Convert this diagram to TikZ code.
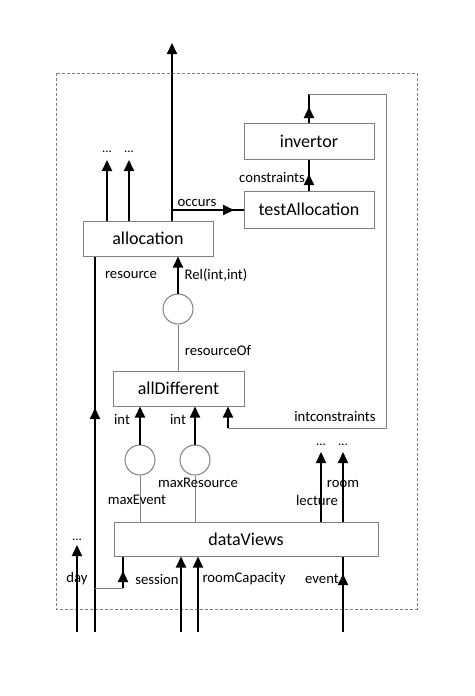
\documentclass[tikz,border=0pt]{standalone}
\usepackage{fontspec}
\setmainfont{Carlito}
\usetikzlibrary{arrows.meta}
\definecolor{boxgray}{RGB}{128,128,128}
\begin{document}
\begin{tikzpicture}[x=1pt,y=-1pt,
  box/.style={draw=boxgray, line width=1pt, inner sep=0pt, font=\fontsize{18}{20}\selectfont},
  circ/.style={draw=boxgray, line width=1pt, circle, minimum size=30pt, inner sep=0pt},
  lbl/.style={inner sep=0pt, font=\fontsize{14.7}{16}\selectfont},
  dots/.style={inner sep=0pt, font=\fontsize{13}{13}\selectfont},
  thk/.style={line width=2pt, draw=black},
  arr/.style={thk, -{Triangle[width=10pt,length=11pt]}},
  thinln/.style={line width=1pt, draw=boxgray}]
\useasboundingbox (0,0) rectangle (474,696);
\fill[white] (0,0) rectangle (474,696);
% outer dashed frame
\draw[boxgray, line width=0.8pt, dash pattern=on 3pt off 2pt] (56,73) rectangle (417,609);

% boxes
\node[box, minimum width=130pt, minimum height=35pt] (allocation) at (148,238.5) {allocation};
\node[box, minimum width=130pt, minimum height=37pt] (testAllocation) at (309,209.5) {testAllocation};
\node[box, minimum width=130pt, minimum height=36pt] (invertor) at (309,141) {invertor};
\node[box, minimum width=131pt, minimum height=35pt] (allDifferent) at (178.5,388.5) {allDifferent};
\node[box, minimum width=264pt, minimum height=34pt] (dataViews) at (246,539) {dataViews};

% circles
\node[circ] (rel) at (178,309) {};
\node[circ] (maxE) at (140,460) {};
\node[circ] (maxR) at (195,460) {};

% coordinates
\coordinate (topTip) at (172,43);
\coordinate (occ) at (172,210);
\coordinate (occTip) at (234,210);
\coordinate (a1) at (107,160);
\coordinate (a2) at (129,160);
\coordinate (conTip) at (309,174);
\coordinate (invTip) at (309,107);
\coordinate (fb1) at (309,94);
\coordinate (fb2) at (386,94);
\coordinate (fb3) at (386,428);
\coordinate (fb4) at (228,428);
\coordinate (resB) at (95,632);
\coordinate (resTip) at (95,408);
\coordinate (sesJ) at (95,588);
\coordinate (sesB) at (123,588);
\coordinate (sesTip) at (123,571);
\coordinate (dayB) at (77,632);
\coordinate (dayTip) at (77,545);
\coordinate (rc1B) at (181,632);
\coordinate (rc2B) at (198,632);
\coordinate (evB) at (343,632);
\coordinate (evTip) at (343,574);
\coordinate (lecTip) at (321,452);
\coordinate (roomTip) at (343,452);

% allocation outputs
\draw[arr] (allocation.north -| topTip) -- (topTip);
\draw[arr] (allocation.north -| a1) -- (a1);
\draw[arr] (allocation.north -| a2) -- (a2);
\draw[thk] (occ) -- (occ -| testAllocation.west);
\draw[arr] (occ) -- (occTip);

% testAllocation -> invertor
\draw[thk] (testAllocation.north) -- (invertor.south);
\draw[arr] (testAllocation.north) -- (conTip);

% invertor feedback loop
\draw[thk] (invertor.north) -- (fb1);
\draw[arr] (invertor.north) -- (invTip);
\draw[thinln] (fb1) -- (fb2) -- (fb3) -- (fb4);
\draw[arr] (fb4) -- (fb4 |- allDifferent.south);

% rel circle
\draw[arr] (rel.north) -- (rel.north |- allocation.south);
\draw[thinln] (rel.south) -- (rel.south |- allDifferent.north);

% max circles
\draw[arr] (maxE.north) -- (maxE.north |- allDifferent.south);
\draw[arr] (maxR.north) -- (maxR.north |- allDifferent.south);
\draw[thinln] (maxE.south) -- (maxE.south |- dataViews.north);
\draw[thinln] (maxR.south) -- (maxR.south |- dataViews.north);

% resource line
\draw[thk] (resB) -- (resB |- allocation.south);
\draw[arr] (resB) -- (resTip);

% session
\draw[thinln] (sesJ) -- (sesB);
\draw[thk] (sesB) -- (sesB |- dataViews.south);
\draw[arr] (sesB) -- (sesTip);

% day
\draw[arr] (dayB) -- (dayTip);

% roomCapacity
\draw[arr] (rc1B) -- (rc1B |- dataViews.south);
\draw[arr] (rc2B) -- (rc2B |- dataViews.south);

% event
\draw[thk] (evB) -- (evB |- dataViews.south);
\draw[arr] (evB) -- (evTip);

% lecture, room
\draw[arr] (lecTip |- dataViews.north) -- (lecTip);
\draw[arr] (roomTip |- dataViews.north) -- (roomTip);

% labels
\node[lbl] (lOcc) at (197,203) {occurs};
\node[lbl] (lCon) at (272,177) {constraints};
\node[lbl] (lRel) at (216,275) {Rel(int,int)};
\node[lbl] (lRes) at (131,275) {resource};
\node[lbl] (lResOf) at (218,351) {resourceOf};
\node[lbl] (lInt1) at (122,419) {int};
\node[lbl] (lInt2) at (178,419) {int};
\node[lbl] (lIntc) at (335,416) {intconstraints};
\node[lbl] (lMaxR) at (198,483) {maxResource};
\node[lbl] (lMaxE) at (137,500) {maxEvent};
\node[lbl] (lLec) at (317,500) {lecture};
\node[lbl] (lRoom) at (343,484) {room};
\node[lbl] (lDay) at (77,579) {day};
\node[lbl] (lSes) at (157,579) {session};
\node[lbl] (lRC) at (244,579) {roomCapacity};
\node[lbl] (lEv) at (322,579) {event};

% dots
\node[dots] (d1) at (107,152) {...};
\node[dots] (d2) at (129,152) {...};
\node[dots] (d3) at (321,445) {...};
\node[dots] (d4) at (343,445) {...};
\node[dots] (d5) at (77,540) {...};
\end{tikzpicture}
\end{document}
